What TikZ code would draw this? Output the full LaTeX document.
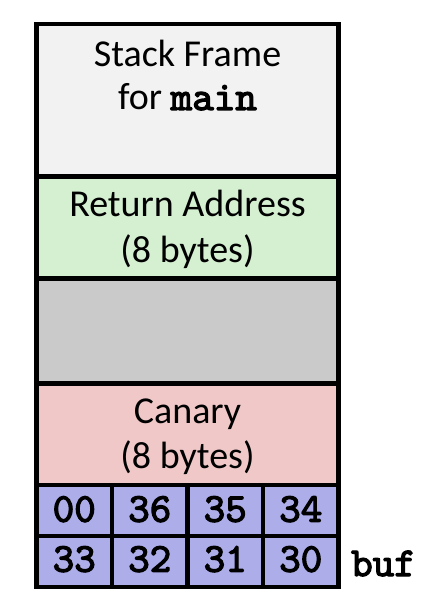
\documentclass[tikz,border=0pt]{standalone}
\usepackage{fontspec}
\setmainfont{Carlito}
\newfontfamily\courb{lmmono10-regular}[Extension=.otf, FakeBold=3]
\definecolor{cframe}{HTML}{F2F2F2}
\definecolor{cret}{HTML}{D5EFD1}
\definecolor{cgap}{HTML}{CACACA}
\definecolor{ccan}{HTML}{F0C8C8}
\definecolor{cbyte}{HTML}{ADADEA}
\begin{document}
\begin{tikzpicture}[x=1pt,y=-1pt,
  rowbox/.style={draw=black, line width=4.5pt, minimum width=302pt, inner sep=0pt, outer sep=0pt},
  cell/.style={draw=black, line width=4.5pt, minimum width=75.5pt, minimum height=51pt, inner sep=0pt, outer sep=0pt, fill=cbyte},
  txt/.style={anchor=base, inner sep=0pt, font=\fontsize{38}{44}\selectfont},
  hex/.style={anchor=base, inner sep=0pt, font=\fontsize{41}{44}\selectfont\courb}
]
\useasboundingbox (0,0) rectangle (434,601);
\node[rowbox, fill=cframe, minimum height=152.5pt] (frame) at (187.5,100.25) {};
\node[rowbox, fill=cret, minimum height=102pt] (ret) at (187.5,227.5) {};
\node[rowbox, fill=cgap, minimum height=105pt] (gap) at (187.5,331) {};
\node[rowbox, fill=ccan, minimum height=101.5pt] (can) at (187.5,434.25) {};
\node[txt] (t1) at (187.5,67) {Stack Frame};
\node[txt] (t2) at (187.5,110) {for {\fontsize{41}{44}\selectfont\courb main}};
\node[txt] (t3) at (187.5,217) {Return Address};
\node[txt] (t4) at (187.5,262) {(8 bytes)};
\node[txt] (t5) at (187.5,423.3) {Canary};
\node[txt] (t6) at (187.5,468.3) {(8 bytes)};
% byte cells
\foreach \lab [count=\i] in {00,36,35,34}{
  \node[cell] (a\i) at ({36.5+75.5*(\i-0.5)},510.5) {};
  \node[hex] (ha\i) at ({36.5+75.5*(\i-0.5)},521.7) {\lab};
}
\foreach \lab [count=\i] in {33,32,31,30}{
  \node[cell] (b\i) at ({36.5+75.5*(\i-0.5)},561.5) {};
  \node[hex] (hb\i) at ({36.5+75.5*(\i-0.5)},571.7) {\lab};
}
\node[hex, anchor=base west] (buf) at (351,576) {buf};
\end{tikzpicture}
\end{document}
